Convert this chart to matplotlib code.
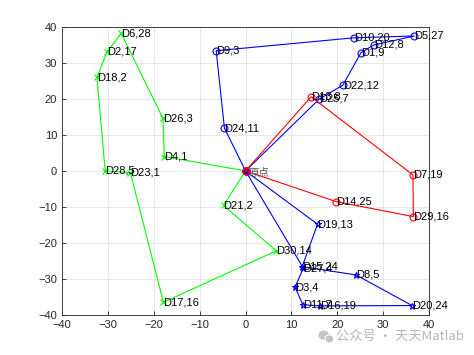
import matplotlib
matplotlib.use("Agg")
import matplotlib.pyplot as plt
from matplotlib.patches import Ellipse

# ---- data ----
green_x = [0, -17.7, -18.0, -27.1, -30.2, -32.4, -30.6, -25.1, -17.9, 6.7, -4.8, 0]
green_y = [0, 4.0, 14.6, 38.2, 33.1, 26.0, 0.0, -0.5, -36.5, -22.2, -9.6, 0]
green_labels = ['', 'D4,1', 'D26,3', 'D6,28', 'D2,17', 'D18,2', 'D28,5', 'D23,1',
                'D17,16', 'D30,14', 'D21,2', '']

blue1_x = [0, -4.6, -6.4, 23.7, 36.8, 28.0, 25.2, 21.2, 16.1, 0]
blue1_y = [0, 11.9, 33.4, 37.0, 37.5, 35.0, 32.9, 23.8, 20.0, 0]
blue1_labels = ['', 'D24,11', 'D9,3', 'D10,20', 'D5,27', 'D12,8', 'D1,9', 'D22,12', 'D25,7', '']

blue2_x = [0, 15.7, 12.35, 24.1, 36.3, 16.3, 12.5, 10.8, 12.6, 0]
blue2_y = [0, -14.8, -26.6, -28.9, -37.4, -37.5, -37.2, -32.3, -27.0, 0]
blue2_labels = ['', 'D19,13', 'D15,24', 'D8,5', 'D20,24', 'D16,19', 'D11,7', 'D3,4', 'D27,4', '']

red_x = [0, 14.3, 36.5, 36.6, 19.7, 0]
red_y = [0, 20.6, -1.1, -12.7, -8.5, 0]
red_labels = ['', 'D13,8', 'D7,19', 'D29,16', 'D14,25', '']

origin_label = '原点'
x_ticks = [-40, -30, -20, -10, 0, 10, 20, 30, 40]
y_ticks = [-40, -30, -20, -10, 0, 10, 20, 30, 40]
watermark = '公众号 · 天天Matlab'

# ---- figure ----
fig = plt.figure(figsize=(4.74, 3.55), dpi=100)
ax = fig.add_axes([0.131, 0.113, 0.774, 0.811])

routes = [
    (green_x, green_y, green_labels, (0, 1, 0), 'x'),
    (blue1_x, blue1_y, blue1_labels, (0, 0, 1), 'o'),
    (blue2_x, blue2_y, blue2_labels, (0, 0, 1), '*'),
    (red_x, red_y, red_labels, (1, 0, 0), 'o'),
]

for xs, ys, labs, col, mk in routes:
    ax.plot(xs, ys, color=col, lw=0.8, marker=mk, markersize=5,
            markerfacecolor='none', markeredgecolor=col, markeredgewidth=0.8, zorder=3)

for xs, ys, labs, col, mk in routes:
    for x, y, s in zip(xs, ys, labs):
        if s:
            ax.text(x, y, s, fontsize=8, family=['Liberation Sans', 'DejaVu Sans'],
                    ha='left', va='center', color='black', zorder=5)

ax.text(0.6, -0.6, origin_label, fontsize=7.5,
        family=['Noto Sans CJK SC', 'DejaVu Sans'], ha='left', va='center',
        color='#555555', zorder=5)

ax.set_xlim(-40, 40)
ax.set_ylim(-40, 40)
ax.set_xticks(x_ticks)
ax.set_yticks(y_ticks)
ax.grid(True, color='#e3e3e3', lw=0.6)
ax.set_axisbelow(True)
ax.tick_params(direction='in', length=3, width=0.6, colors='#262626',
               labelsize=8, top=False, right=False)
for lab in ax.get_xticklabels() + ax.get_yticklabels():
    lab.set_family(['Liberation Sans', 'DejaVu Sans'])
for sp in ax.spines.values():
    sp.set_color('#262626')
    sp.set_linewidth(0.6)

# watermark
fig.text(0.708, 0.052, watermark, fontsize=9.5,
         family=['Noto Sans CJK SC', 'DejaVu Sans'], color='#b8b8b8',
         ha='left', va='center')
fig.patches.append(Ellipse((0.683, 0.056), 0.022, 0.026, transform=fig.transFigure,
                           facecolor='#c4c4c4', edgecolor='none'))
fig.patches.append(Ellipse((0.695, 0.045), 0.019, 0.023, transform=fig.transFigure,
                           facecolor='#c4c4c4', edgecolor='white', lw=0.8))

fig.savefig('out.png', dpi=100, facecolor='white')
